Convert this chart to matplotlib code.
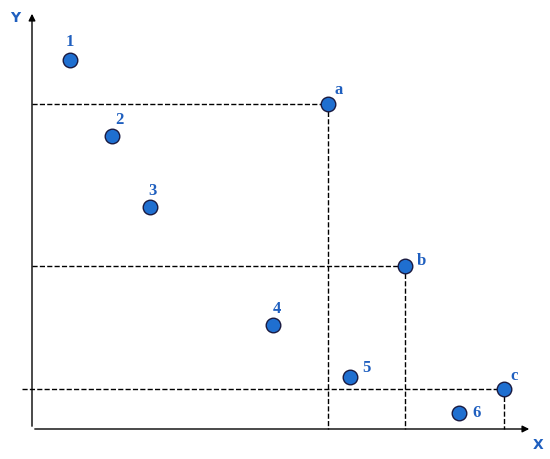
import matplotlib.pyplot as plt

# point positions (x right from origin, y up from origin)
names = ['1', '2', '3', '4', '5', '6', 'a', 'b', 'c']
xs = [38, 80, 118, 241, 318, 427, 296, 373, 472]
ys = [369, 293, 222, 104, 52, 16, 325, 163, 40]
# label offsets in points
label_dx = [0, 5, 2, 3, 12, 13, 8, 12, 7]
label_dy = [14, 12, 12, 12, 7, 1, 11, 4, 10]
guides = ['a', 'b', 'c']

blue = '#1f6fd0'
txt_blue = '#1f5fbf'

fig = plt.figure(figsize=(5.5, 4.6), dpi=100)
ax = fig.add_axes([0, 0, 1, 1])
ax.set_xlim(-32, 518)
ax.set_ylim(-30, 430)
ax.axis('off')

# axes with arrows
ax.annotate('', xy=(500, 0), xytext=(0, 0),
            arrowprops=dict(arrowstyle='-|>', color='black', lw=1, mutation_scale=10))
ax.annotate('', xy=(0, 418), xytext=(0, 0),
            arrowprops=dict(arrowstyle='-|>', color='black', lw=1, mutation_scale=10))
ax.text(-17, 412, 'Y', color=txt_blue, fontsize=10, fontweight='bold', ha='center', va='center')
ax.text(506, -15, 'X', color=txt_blue, fontsize=10, fontweight='bold', ha='center', va='center')

# dashed guide lines
for n in guides:
    i = names.index(n)
    x0 = -10 if n == 'c' else 0
    ax.plot([x0, xs[i]], [ys[i], ys[i]], ls='--', color='black', lw=1)
    ax.plot([xs[i], xs[i]], [ys[i], 0], ls='--', color='black', lw=1)

ax.scatter(xs, ys, s=110, color=blue, edgecolor='#1a1a40', linewidth=1, zorder=3)
for n, x, y, dx, dy in zip(names, xs, ys, label_dx, label_dy):
    ax.annotate(n, (x, y), xytext=(dx, dy), textcoords='offset points',
                ha='center', va='center', color=txt_blue, fontsize=12,
                fontweight='bold', family='Liberation Serif')

fig.savefig('out.png', dpi=100)
